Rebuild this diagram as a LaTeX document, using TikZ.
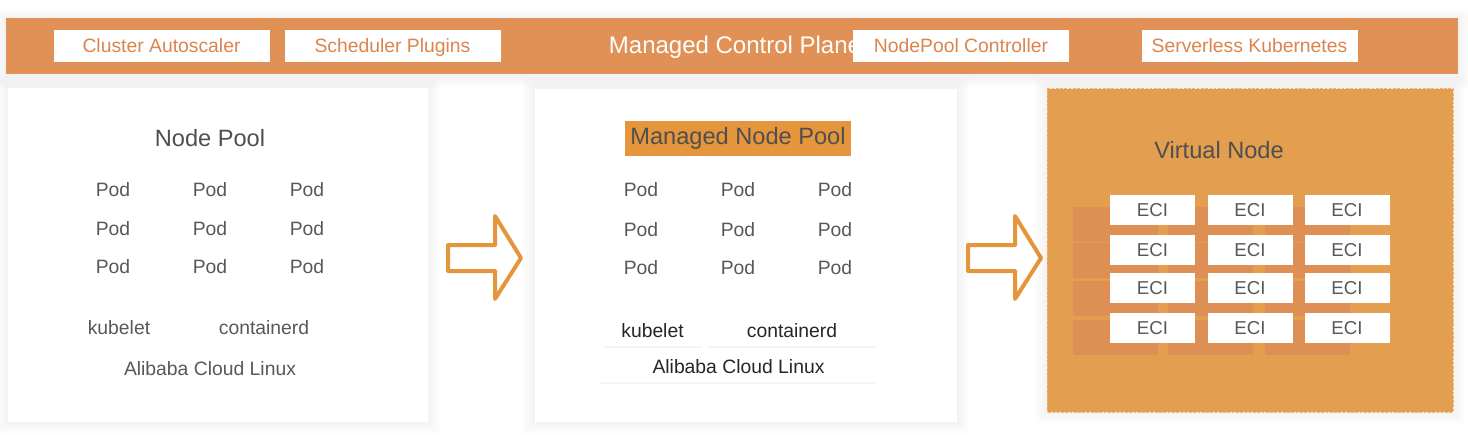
\documentclass[tikz,border=0pt]{standalone}
\usepackage{fontspec}
\setmainfont{Liberation Sans}
\usepackage{tikz}
\usetikzlibrary{shadows}
\usepackage{xcolor}
\definecolor{bannerorange}{RGB}{225,145,85}
\definecolor{vnodeorange}{RGB}{227,158,80}
\definecolor{ghostorange}{RGB}{222,143,84}
\definecolor{arroworange}{RGB}{229,150,60}
\definecolor{labelorange}{RGB}{220,132,78}
\definecolor{textgray}{RGB}{88,88,88}
\definecolor{dashorange}{RGB}{238,180,120}
\tikzset{every picture/.style={line width=0.75pt}}
\tikzset{
  planebox/.style={fill=white, text=labelorange, minimum width=162pt, minimum height=24pt,
    inner sep=0pt, text height=10.5pt, text depth=0pt, font=\fontsize{14.5}{16}\selectfont},
  panel/.style={fill=white},
  podtext/.style={text=textgray, font=\fontsize{14.5}{16}\selectfont},
  titletext/.style={text=textgray!90!black, font=\fontsize{17.7}{20}\selectfont},
  runbox/.style={fill=white, text=black!85, inner sep=0pt, minimum height=22.5pt,
    text height=10.5pt, text depth=1pt, font=\fontsize{14.5}{16}\selectfont,
    drop shadow={opacity=0.08, shadow xshift=0pt, shadow yshift=-1.5pt}},
  ecibox/.style={fill=white, text=textgray, inner sep=0pt, minimum width=63.75pt,
    minimum height=22.5pt, font=\fontsize{14}{16}\selectfont},
  blockarrow/.style={draw=arroworange, line width=3pt, line join=round, fill=white},
}
% soft halo round a panel
\newcommand{\softhalo}[2]{%
  \foreach \d in {2,4,...,12}
    \fill [black, opacity=0.008] ($(#1)+(-\d,-\d)$) rectangle ($(#2)+(\d,\d)$);}
\usetikzlibrary{calc}

\begin{document}
\begin{tikzpicture}[x=0.75pt,y=0.75pt,yscale=-1,xscale=1]
\useasboundingbox (0,0) rectangle (1468,435);

%Shape: Rectangle (control plane banner)
\softhalo{6,20}{1458,76}
\fill [bannerorange] (6,18) rectangle (1458,74) ;
% Text Node
\node [text=white, font=\fontsize{18}{20}\selectfont] (cplane) at (735,47.5) {Managed Control Plane};
\node [planebox] (autoscaler) at (161.5,46) {Cluster Autoscaler};
\node [planebox] (plugins) at (392.5,46) {Scheduler Plugins};
\node [planebox] (npctrl) at (961,46) {NodePool Controller};
\node [planebox] (serverless) at (1249.5,46) {Serverless Kubernetes};

%Shape: Rectangle (node pool)
\softhalo{8,88}{428,422}
\path [panel] (8,88) rectangle (428,422) ;
% Text Node
\node [titletext] (npool) at (210,138) {Node Pool};
\foreach \c/\x in {1/113,2/210,3/307}
  \foreach \r/\y in {1/190,2/229,3/267}
    \node [podtext] (pa-\r-\c) at (\x,\y) {Pod};
\node [podtext] (kubeA) at (119,328) {kubelet};
\node [podtext] (ctrdA) at (264,328) {containerd};
\node [podtext] (linuxA) at (210,369) {Alibaba Cloud Linux};

%Shape: Block Arrow
\draw [blockarrow] (448,245) -- (495,245) -- (495,216) -- (521,258) -- (495,299) -- (495,271) -- (448,271) -- cycle ;

%Shape: Rectangle (managed node pool)
\softhalo{535,89}{957,422}
\path [panel] (535,89) rectangle (957,422) ;
% Text Node
\node [titletext, fill=arroworange, minimum width=169.5pt, minimum height=26.25pt, inner sep=0pt] (mnpool) at (738,138.5) {Managed Node Pool};
\foreach \c/\x in {1/641,2/738,3/835}
  \foreach \r/\y in {1/190,2/230,3/268}
    \node [podtext] (pb-\r-\c) at (\x,\y) {Pod};
\node [runbox, minimum width=74.25pt] (kubeB) at (652.5,331) {kubelet};
\node [runbox, minimum width=127.5pt] (ctrdB) at (792,331) {containerd};
\node [runbox, minimum width=207.75pt, minimum height=21.75pt] (linuxB) at (738.5,367.5) {Alibaba Cloud Linux};

%Shape: Block Arrow
\draw [blockarrow] (968,245) -- (1015,245) -- (1015,216) -- (1041,258) -- (1015,299) -- (1015,271) -- (968,271) -- cycle ;

%Shape: Rectangle (virtual node)
\softhalo{1047,89}{1453,412}
\draw [fill=vnodeorange, draw=dashorange, dash pattern={on 2pt off 1.2pt}] (1047,89) rectangle (1453,412) ;
% Text Node
\node [titletext] (vnode) at (1219,150) {Virtual Node};
% ghost grid behind the ECI boxes
\foreach \x in {1073,1168,1265}
  \foreach \y in {207,243,281,320}
    \fill [ghostorange] (\x,\y) rectangle ++(85,35) ;
\foreach \c/\x in {1/1152.5,2/1250,3/1347}
  \foreach \r/\y in {1/210,2/250,3/288,4/328}
    \node [ecibox] (eci-\r-\c) at (\x,\y) {ECI};

\end{tikzpicture}
\end{document}
